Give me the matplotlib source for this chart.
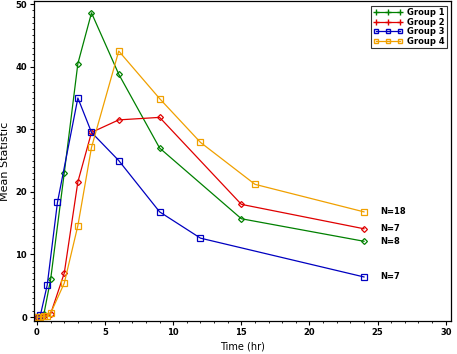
import numpy as np
import matplotlib
matplotlib.use("Agg")
import matplotlib.pyplot as plt
from matplotlib.lines import Line2D
from matplotlib.ticker import MultipleLocator

# Mean statistic per group over time
t1 = [0, 0.5, 1, 2, 3, 4, 6, 9, 15, 24]
g1 = [0, 0.4, 6.0, 23.0, 40.5, 48.6, 38.8, 27.0, 15.7, 12.1]

t2 = [0, 0.5, 1, 2, 3, 4, 6, 9, 15, 24]
g2 = [0, 0.2, 0.5, 7.0, 21.6, 29.5, 31.5, 31.9, 18.0, 14.1]

t3 = [0, 0.25, 0.75, 1.5, 3, 4, 6, 9, 12, 24]
g3 = [0, 0.3, 5.1, 18.3, 35.0, 29.5, 25.0, 16.8, 12.6, 6.4]

t4 = [0, 0.25, 0.5, 0.75, 1, 2, 3, 4, 6, 9, 12, 16, 24]
g4 = [0, 0.0, 0.1, 0.2, 0.6, 5.4, 14.6, 27.1, 42.5, 34.9, 27.9, 21.2, 16.8]

group_names = ["Group 1", "Group 2", "Group 3", "Group 4"]
n_labels = ["N=8", "N=7", "N=7", "N=18"]
colors = ["#008000", "#e00000", "#0000c0", "#f0a000"]

fig = plt.figure(figsize=(4.57, 3.54), dpi=100)
ax = fig.add_axes([0.0744, 0.0932, 0.912, 0.904])

series = [(t1, g1), (t2, g2), (t3, g3), (t4, g4)]
markers = ["D", "D", "s", "s"]
msizes = [3, 3, 4.5, 4.5]
for (t, g), c, m, ms in zip(series, colors, markers, msizes):
    ax.plot(t, g, color=c, lw=0.9, marker=m, ms=ms, mfc="none", mec=c, mew=0.9)

# N labels next to last points
for (t, g), lab in zip(series, n_labels):
    ax.text(t[-1] + 1.2, g[-1], lab, fontsize=6, fontweight="bold", va="center", ha="left")

ax.set_xlim(-0.22, 30.37)
ax.set_ylim(-0.64, 50.5)
ax.xaxis.set_major_locator(MultipleLocator(5))
ax.xaxis.set_minor_locator(MultipleLocator(1))
ax.yaxis.set_major_locator(MultipleLocator(10))
ax.yaxis.set_minor_locator(MultipleLocator(1))
ax.tick_params(which="major", length=3, width=0.8, labelsize=6, pad=2)
ax.tick_params(which="minor", length=1.5, width=0.6)
for lab in ax.get_xticklabels() + ax.get_yticklabels():
    lab.set_fontweight("bold")

ax.set_xlabel("Time (hr)", fontsize=7, labelpad=3)
ax.set_ylabel("Mean Statistic", fontsize=8, labelpad=4)

for sp in ax.spines.values():
    sp.set_linewidth(0.9)

handles = [
    Line2D([], [], color=colors[0], lw=0.9, marker="+", ms=4),
    Line2D([], [], color=colors[1], lw=0.9, marker="+", ms=4),
    Line2D([], [], color=colors[2], lw=0.9, marker="s", ms=3.5, mfc="none"),
    Line2D([], [], color=colors[3], lw=0.9, marker="s", ms=3.5, mfc="none"),
]
leg = ax.legend(handles, group_names, loc="upper right", bbox_to_anchor=(0.995, 0.99),
                frameon=True, fancybox=False, edgecolor="black",
                borderpad=0.3, labelspacing=0.05, handlelength=3.5, handletextpad=0.5,
                borderaxespad=0.2, numpoints=3,
                prop={"size": 6, "weight": "bold"})
leg.get_frame().set_linewidth(0.8)

fig.savefig("out.png", dpi=100)
